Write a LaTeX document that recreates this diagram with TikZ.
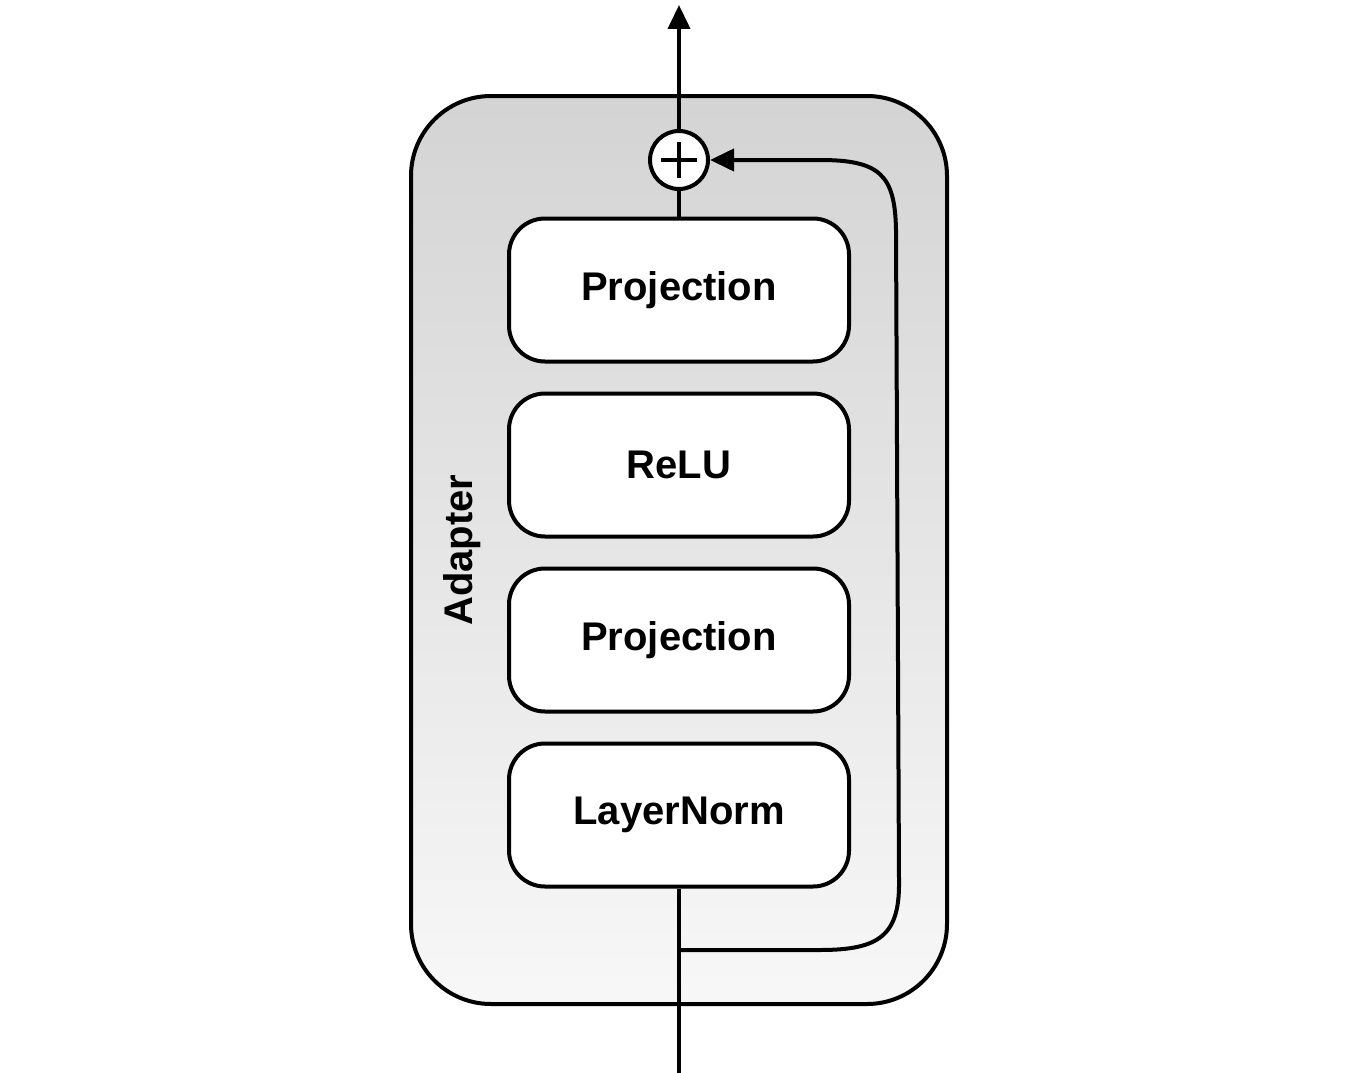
\documentclass[tikz,border=0pt]{standalone}
\usepackage{fontspec}
\setmainfont{Liberation Sans}
\usetikzlibrary{arrows.meta}
\begin{document}
\begin{tikzpicture}[x=1pt,y=-1pt,
  blk/.style={draw,line width=4pt,rounded corners=36pt,fill=white,minimum width=340pt,minimum height=143pt,font=\fontsize{40}{48}\selectfont\bfseries},
  ln/.style={line width=4pt},
  arr/.style={ln,-{Triangle[length=24pt,width=22pt]}}]
\useasboundingbox (0,0) rectangle (1357,1073);
\node[draw,line width=4pt,rounded corners=80pt,top color=black!17,bottom color=black!3,minimum width=536pt,minimum height=908pt] (ad) at (679,550) {};
\node[rotate=90,font=\fontsize{40}{48}\selectfont\bfseries] (lab) at (462,550) {Adapter};
\node[blk] (p2) at (679,290) {Projection};
\node[blk] (r) at (679,465) {ReLU};
\node[blk] (p1) at (679,640) {Projection};
\node[blk] (l) at (679,815) {LayerNorm};
\node[draw,circle,line width=4pt,fill=white,minimum size=58pt,inner sep=0pt] (c) at (679,160) {};
\draw[line width=4pt] (c.center)++(-18,0) -- ++(36,0) (c.center)++(0,-18) -- ++(0,36);
\coordinate (bot) at (679,1073);
\coordinate (top) at (679,5);
\coordinate (sk) at (679,950);
\draw[ln] (bot) -- (l.south);
\draw[ln] (p2.north) -- (c.south);
\draw[arr] (c.north) -- (top);
\draw[arr] (sk) -- (820,950) .. controls (880,950) and (900,935) .. (899,880) -- (896,230) .. controls (895,175) and (880,160) .. (820,160) -- (c.east);
\end{tikzpicture}
\end{document}
